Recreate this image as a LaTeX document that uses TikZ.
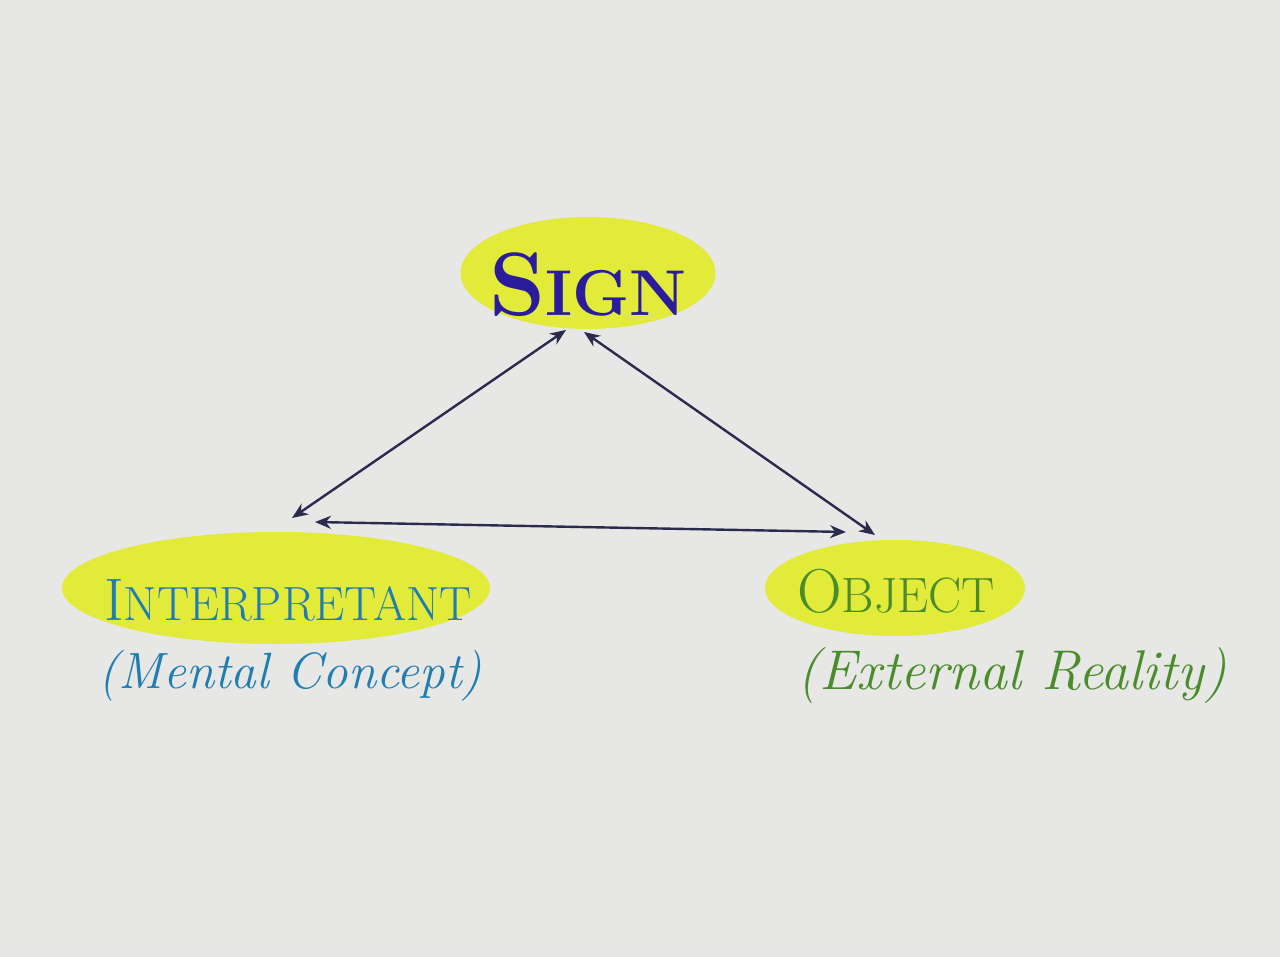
\documentclass[tikz,border=0pt]{standalone}
\usetikzlibrary{arrows.meta,shapes.geometric}
\definecolor{bg}{HTML}{E7E7E5}
\definecolor{hl}{HTML}{E2EA3A}
\definecolor{signc}{HTML}{2A1C9C}
\definecolor{intc}{HTML}{1F7DB2}
\definecolor{objc}{HTML}{4A8C2C}
\definecolor{arr}{HTML}{2B2B4E}
\tikzset{
  blob/.style={ellipse, fill=hl, inner sep=0pt},
  link/.style={draw=arr, line width=2.4pt, {Stealth[length=16pt,width=13pt]}-{Stealth[length=16pt,width=13pt]}}
}
\begin{document}
\begin{tikzpicture}[x=1pt,y=-1pt]
\fill[bg] (0,0) rectangle (1280,957);
\useasboundingbox (0,0) rectangle (1280,957);
\node[blob, minimum width=255pt, minimum height=112pt] (sign) at (588,273) {};
\node[blob, minimum width=428pt, minimum height=112pt] (interp) at (276,588) {};
\node[blob, minimum width=260pt, minimum height=96pt] (obj) at (895,588) {};
\node[text=signc, font=\fontsize{90}{90}\selectfont\bfseries] at (588,285) {S\scalebox{0.72}{IGN}};
\node[text=intc, font=\fontsize{60}{60}\selectfont] at (288,600) {I\scalebox{0.8}{NTERPRETANT}};
\node[text=objc, font=\fontsize{62}{62}\selectfont] at (896,591) {O\scalebox{0.8}{BJECT}};
\node[text=intc, font=\fontsize{51}{51}\selectfont\itshape] (mc) at (290,676) {(Mental Concept)};
\node[text=objc, font=\fontsize{56}{56}\selectfont\itshape] (er) at (1012,676) {(External Reality)};
\coordinate (s1) at (566,330);
\coordinate (s2) at (584,332);
\coordinate (i1) at (292,518);
\coordinate (i2) at (315,522);
\coordinate (o1) at (875,535);
\coordinate (o2) at (846,532);
\draw[link] (s1) -- (i1);
\draw[link] (s2) -- (o1);
\draw[link] (i2) -- (o2);
\end{tikzpicture}
\end{document}
